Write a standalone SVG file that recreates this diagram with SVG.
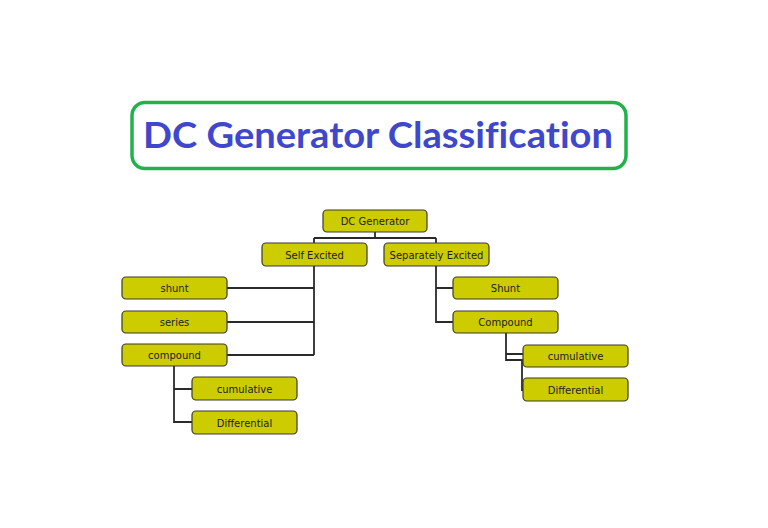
<svg xmlns="http://www.w3.org/2000/svg" width="768" height="528" viewBox="0 0 768 528">
<style>
.box{fill:#cccc00;stroke:#3a3a2a;stroke-width:1.2}
.lbl{font-family:"DejaVu Sans",Verdana,sans-serif;font-size:10px;fill:#222;text-anchor:middle}
.con{fill:none;stroke:#2a2a2a;stroke-width:1.8}
.ttl{font-family:Lato,'Open Sans',sans-serif;font-weight:bold;font-size:37px;fill:#3f48cc;text-anchor:middle;font-variant-ligatures:none;font-feature-settings:"liga" 0,"clig" 0}
</style>
<rect width="768" height="528" fill="#fff"/>
<g id="title">
<rect x="132" y="102.5" width="494" height="66" rx="13" fill="#fff" stroke="#22b24c" stroke-width="3.5"/>
<text class="ttl" x="378" y="148" textLength="470" lengthAdjust="spacingAndGlyphs">DC Generator Classification</text>
</g>
<g id="connectors">
<path class="con" d="M375,232 V238 M314,238 H436 M314,238 V243 M436,238 V243"/>
<path class="con" d="M314,266 V355 M227,288 H314 M227,322 H314 M227,355 H314"/>
<path class="con" d="M436,266 V322 H453 M436,288 H453"/>
<path class="con" d="M174,366 V422 H192 M174,389 H192"/>
<path class="con" d="M506,333 V354 H523 M506,354 V360 H522 V390 H523"/>
</g>
<g id="n-dc"><rect class="box" x="323" y="210" width="104" height="22" rx="4"/><text class="lbl" x="375" y="225">DC Generator</text></g>
<g id="n-self"><rect class="box" x="262" y="243" width="105" height="23" rx="4"/><text class="lbl" x="314.5" y="258.5">Self Excited</text></g>
<g id="n-sep"><rect class="box" x="384" y="243" width="105" height="23" rx="4"/><text class="lbl" x="436.5" y="258.5">Separately Excited</text></g>
<g id="n-shunt-l"><rect class="box" x="122" y="277" width="105" height="22" rx="4"/><text class="lbl" x="174.5" y="292">shunt</text></g>
<g id="n-series"><rect class="box" x="122" y="311" width="105" height="22" rx="4"/><text class="lbl" x="174.5" y="326">series</text></g>
<g id="n-compound-l"><rect class="box" x="122" y="344" width="105" height="22" rx="4"/><text class="lbl" x="174.5" y="359">compound</text></g>
<g id="n-cum-l"><rect class="box" x="192" y="377" width="105" height="23" rx="4"/><text class="lbl" x="244.5" y="392.5">cumulative</text></g>
<g id="n-diff-l"><rect class="box" x="192" y="411" width="105" height="23" rx="4"/><text class="lbl" x="244.5" y="426.5">Differential</text></g>
<g id="n-shunt-r"><rect class="box" x="453" y="277" width="105" height="22" rx="4"/><text class="lbl" x="505.5" y="292">Shunt</text></g>
<g id="n-compound-r"><rect class="box" x="453" y="311" width="105" height="22" rx="4"/><text class="lbl" x="505.5" y="326">Compound</text></g>
<g id="n-cum-r"><rect class="box" x="523" y="345" width="105" height="22" rx="4"/><text class="lbl" x="575.5" y="360">cumulative</text></g>
<g id="n-diff-r"><rect class="box" x="523" y="378" width="105" height="23" rx="4"/><text class="lbl" x="575.5" y="393.5">Differential</text></g>
</svg>
